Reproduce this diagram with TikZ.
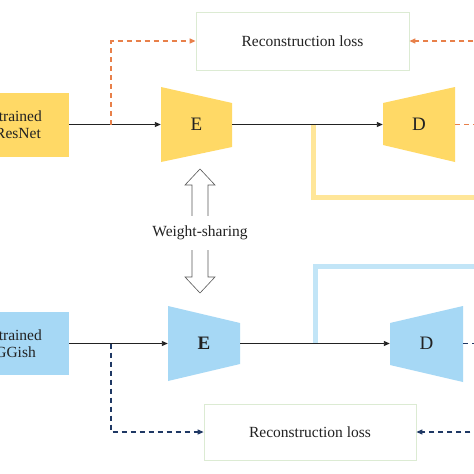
\documentclass[tikz,border=0pt]{standalone}
\usepackage{fontspec}
\setmainfont{Liberation Serif}
\usetikzlibrary{arrows.meta}
\definecolor{ygold}{HTML}{FFD966}
\definecolor{ylight}{HTML}{FFE699}
\definecolor{bbox}{HTML}{A6D8F5}
\definecolor{blight}{HTML}{C2E5F7}
\definecolor{lossborder}{HTML}{DCEBD3}
\definecolor{odash}{HTML}{E8804A}
\definecolor{bdash}{HTML}{1F3864}
\definecolor{txt}{HTML}{222222}
\begin{document}
\begin{tikzpicture}[x=1pt,y=-1pt,
  lbl/.style={font=\fontsize{15.5}{17}\selectfont, text=txt},
  inbox/.style={lbl, align=center, inner sep=0pt, minimum width=124pt},
  codelbl/.style={font=\fontsize{19}{21}\selectfont, text=txt, inner sep=0pt},
  lossbox/.style={draw=lossborder, line width=0.8pt, fill=white, lbl, inner sep=0pt},
  flow/.style={draw=txt, line width=0.9pt, -{Triangle[length=6pt,width=5pt]}},
  odsh/.style={draw=odash, line width=1.3pt, dash pattern=on 5pt off 4pt},
  bdsh/.style={draw=bdash, line width=1.1pt, dash pattern=on 5pt off 4pt},
  dtip/.style={-{Triangle[length=6pt,width=5pt]}},
  thick/.style={line width=5pt, line join=miter, line cap=butt}
]
\useasboundingbox (0,0) rectangle (474,474);
\clip (0,0) rectangle (474,474);
\fill[white] (0,0) rectangle (474,474);

% ---------- top branch ----------
\node[lossbox, minimum width=213pt, minimum height=58pt] (L1) at (302.5,41) {Reconstruction loss};
\node[inbox, fill=ygold, minimum height=64pt, text width=124pt] (R) at (7,125) {\hspace*{6pt}Pretrained\\\hspace*{22pt}ResNet};

\fill[ygold] (161,87) -- (232,103) -- (232,147) -- (161,162) -- cycle;
\node[codelbl, minimum width=71pt, minimum height=75pt] (E1) at (196.5,124.5) {E};
\fill[ygold] (383,103) -- (455,87) -- (455,162) -- (383,145) -- cycle;
\node[codelbl, minimum width=72pt, minimum height=75pt] (D1) at (419,124.5) {D};

\coordinate (o1) at (111,124.5);
\coordinate (y1) at (313,124.5);
\coordinate (yEnd) at (490,197);
\coordinate (oR) at (490,41);

\draw[ylight, thick] (y1) |- (yEnd);
\draw[flow] (R.east |- E1.west) -- (E1.west);
\draw[flow] (E1.east) -- (D1.west);
\draw[odsh, dtip] (o1) |- (L1.west);
\draw[odsh, dtip] (D1.east) -| (oR) -- (L1.east);

% ---------- weight sharing ----------
\draw[draw=black!65, line width=0.6pt, fill=white]
  (200,169) -- (215,185) -- (208,185) -- (208,277) -- (215,277) -- (200,293)
  -- (185,277) -- (192,277) -- (192,185) -- (185,185) -- cycle;
\node[lbl, fill=white, minimum height=34pt, inner xsep=1pt] (ws) at (200,232.5) {Weight-sharing};

% ---------- bottom branch ----------
\node[lossbox, minimum width=212pt, minimum height=56pt] (L2) at (310,432) {Reconstruction loss};
\node[inbox, fill=bbox, minimum height=63pt, text width=124pt] (V) at (7,343.5) {\hspace*{6pt}Pretrained\\\hspace*{6pt}VGGish};

\fill[bbox] (168,306) -- (240,323) -- (240,364) -- (168,381) -- cycle;
\node[codelbl, font=\fontsize{19}{21}\selectfont\bfseries, minimum width=72pt, minimum height=75pt] (E2) at (204,343.5) {E};
\fill[bbox] (390,323) -- (463,306) -- (463,382) -- (390,365) -- cycle;
\node[codelbl, minimum width=73pt, minimum height=76pt] (D2) at (426.5,343.5) {D};

\coordinate (o2) at (111,343.5);
\coordinate (b1) at (315,343.5);
\coordinate (bEnd) at (490,266);
\coordinate (bR) at (490,432);

\draw[blight, thick] (b1) |- (bEnd);
\draw[flow] (V.east |- E2.west) -- (E2.west);
\draw[flow] (E2.east) -- (D2.west);
\draw[bdsh, dtip] (o2) |- (L2.west);
\draw[bdsh, dtip] (D2.east) -| (bR) -- (L2.east);
\end{tikzpicture}
\end{document}
